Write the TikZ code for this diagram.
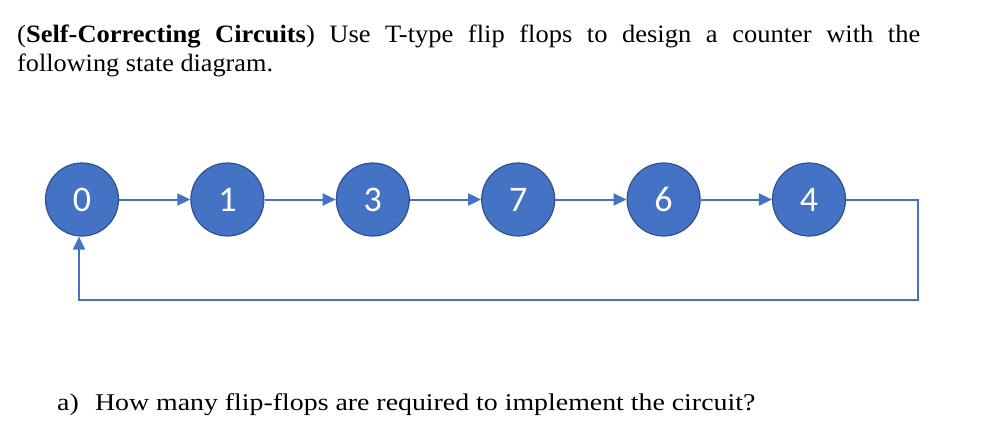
\documentclass[tikz,border=0pt]{standalone}
\usepackage{fontspec}
\setmainfont{Liberation Serif}
\newfontfamily\statefont{Carlito}
\usetikzlibrary{arrows.meta}

\definecolor{statefill}{HTML}{4472C4}
\definecolor{stateline}{HTML}{2F528F}

\tikzset{
  state/.style={circle, fill=statefill, draw=stateline, line width=1.2pt,
    minimum size=73pt, inner sep=0pt, text=white, font=\statefont\fontsize{36}{36}\selectfont},
  link/.style={draw=statefill, line width=2pt, -{Triangle[length=13pt,width=12pt]}},
  prose/.style={anchor=base west, inner sep=0pt, font=\fontsize{25}{29}\selectfont}
}

\begin{document}
\begin{tikzpicture}[x=1pt, y=-1pt]
  \useasboundingbox (0,0) rectangle (998,433);

  \node[prose] (task) at (17,43)
  {\scalebox{1.06}[1]{\makebox[852pt][s]{(\textbf{Self-Correcting Circuits}) Use T-type flip flops to design a counter with the}}};
  \node[prose] (task2) at (17,72) {\scalebox{1.05}[1]{following state diagram.}};

  \node[state] (s0) at (82,199.5) {0};
  \node[state] (s1) at (227.4,199.5) {1};
  \node[state] (s3) at (372.8,199.5) {3};
  \node[state] (s7) at (518.2,199.5) {7};
  \node[state] (s6) at (663.6,199.5) {6};
  \node[state] (s4) at (809,199.5) {4};

  \draw[link] (s0) -- (s1);
  \draw[link] (s1) -- (s3);
  \draw[link] (s3) -- (s7);
  \draw[link] (s7) -- (s6);
  \draw[link] (s6) -- (s4);

  \coordinate (back) at (79,300);
  \draw[link, line join=miter] (s4.east) -| (918,300) -- (back) -- (back |- s0.south);

  \node[prose, font=\fontsize{24}{29}\selectfont] (qa) at (57,410)
  {\scalebox{1.16}[1]{a)\hspace{14pt}How many flip-flops are required to implement the circuit?}};
\end{tikzpicture}
\end{document}
